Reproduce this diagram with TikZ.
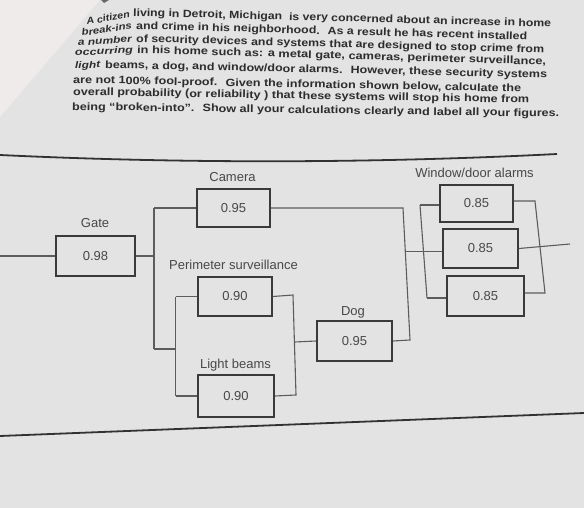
\documentclass[tikz,border=0pt]{standalone}
\usepackage{fontspec}
\setmainfont{Liberation Sans}
\usepackage{graphicx}
\definecolor{paper}{RGB}{227,227,227}
\definecolor{corner}{RGB}{239,235,235}
\definecolor{ink}{RGB}{45,45,45}
\definecolor{dink}{RGB}{72,72,72}
\definecolor{wirec}{RGB}{92,92,92}
\definecolor{framec}{RGB}{58,58,58}
\definecolor{rulec}{RGB}{50,50,50}
\begin{document}
\begin{tikzpicture}[x=1pt,y=-1pt,
  box/.style={draw=framec, line width=1.8pt, inner sep=0pt, text=dink,
    font=\fontsize{13}{15}\selectfont},
  lab/.style={anchor=base, inner sep=0pt, text=dink, font=\fontsize{13}{15}\selectfont},
  wire/.style={draw=wirec, line width=1.1pt},
  tline/.style={anchor=base west, inner sep=0pt, text=ink,
    font=\fontsize{10.6}{12}\selectfont\bfseries},
  tword/.style={anchor=base west, inner sep=0pt, text=ink,
    font=\fontsize{9.5}{11}\selectfont\bfseries\itshape}
]
\useasboundingbox (0,0) rectangle (584,508);
\fill[paper] (0,0) rectangle (584,508);
\fill[corner] (0,0) -- (100,0) -- (0,117) -- cycle;
\fill[black!60] (101,0) -- (109,0) -- (104,3) -- cycle;

% problem text
\node[tword, rotate=10.5] (t1a) at (87,25) {\resizebox{43.7pt}{\height}{A citizen}};
\node[tline, rotate=-1.51] (t1b) at (133,16) {\resizebox{418pt}{\height}{living in Detroit, Michigan~ is very concerned about an increase in home}};
\node[tword, rotate=8] (t2a) at (82,36) {\resizebox{50.5pt}{\height}{break-ins}};
\node[tline, rotate=-1.61] (t2b) at (136,29) {\resizebox{391pt}{\height}{and crime in his neighborhood.~ As a result he has recent installed}};
\node[tword, rotate=4.2] (t3a) at (78,46) {\resizebox{54pt}{\height}{a number}};
\node[tline, rotate=-1.54] (t3b) at (136,42) {\resizebox{408pt}{\height}{of security devices and systems that are designed to stop crime from}};
\node[tword, rotate=3] (t4a) at (75,56) {\resizebox{58pt}{\height}{occurring}};
\node[tline, rotate=-1.68] (t4b) at (137,53) {\resizebox{409pt}{\height}{in his home such as: a metal gate, cameras, perimeter surveillance,}};
\node[tword, rotate=1.5] (t5a) at (75,68.5) {\resizebox{25pt}{\height}{light}};
\node[tline, rotate=-1.30] (t5b) at (105,68) {\resizebox{442pt}{\height}{beams, a dog, and window/door alarms.~ However, these security systems}};
\node[tline, rotate=-1.15] (t6) at (73,83) {\resizebox{448pt}{\height}{are not 100\% fool-proof.~ Given the information shown below, calculate the}};
\node[tline, rotate=-1.0] (t7) at (73,95) {\resizebox{456pt}{\height}{overall probability (or reliability ) that these systems will stop his home from}};
\node[tline, rotate=-0.82] (t8) at (72,110) {\resizebox{487pt}{\height}{being “broken-into”.~ Show all your calculations clearly and label all your figures.}};

% rules
\draw[draw=rulec, line width=1.8pt] (0,155) .. controls (190,164) and (380,163) .. (557,154);
\draw[draw=rulec, line width=1.8pt] (0,436) -- (584,413);

% blocks
\node[box, minimum width=79pt, minimum height=40pt] (gate) at (95.5,256) {0.98};
\node[lab] (gatel) at (95,227) {Gate};
\node[box, minimum width=73pt, minimum height=38pt] (cam) at (233.5,208) {0.95};
\node[lab] (caml) at (232.5,182) {Camera};
\node[box, minimum width=74pt, minimum height=39pt] (ps) at (235,296.5) {0.90};
\node[lab] (psl) at (233.5,269) {Perimeter surveillance};
\node[box, minimum width=76pt, minimum height=42pt] (lb) at (236,396) {0.90};
\node[lab] (lbt) at (235.5,368) {Light beams};
\node[box, minimum width=75pt, minimum height=40pt] (dog) at (354.5,341) {0.95};
\node[lab] (dogl) at (353,315) {Dog};
\node[box, minimum width=73pt, minimum height=37pt] (a1) at (476.5,203.5) {0.85};
\node[box, minimum width=75pt, minimum height=39pt] (a2) at (480.5,248.5) {0.85};
\node[box, minimum width=77pt, minimum height=40pt] (a3) at (485.5,296) {0.85};
\node[lab] (wdal) at (474.5,178) {Window/door alarms};

% junctions
\coordinate (in) at (0,256);
\coordinate (jl) at (154,256);
\coordinate (jt) at (154,208);
\coordinate (jb) at (154,349);
\coordinate (ib) at (175.5,349);
\coordinate (it) at (175.5,296.5);
\coordinate (ibt) at (175.5,396);
\coordinate (ort) at (293,295);
\coordinate (orb) at (296,395);
\coordinate (om) at (294.5,342);
\coordinate (rt) at (403,208);
\coordinate (rb) at (410,340);
\coordinate (rm) at (406,251.5);
\coordinate (alt) at (420,205);
\coordinate (alb) at (427,298);
\coordinate (art) at (535,201);
\coordinate (arb) at (545,293);
\coordinate (out) at (570,244);

% wires
\draw[wire] (in) -- (gate.west);
\draw[wire] (gate.east) -- (jl);
\draw[wire] (jt) -- (jb);
\draw[wire] (jt) -- (cam.west);
\draw[wire] (cam.east) -- (rt) -- (rb) -- (dog.east);
\draw[wire] (jb) -- (ib);
\draw[wire] (it) -- (ibt);
\draw[wire] (it) -- (ps.west);
\draw[wire] (ibt) -- (lb.west);
\draw[wire] (ps.east) -- (ort) -- (orb) -- (lb.east);
\draw[wire] (om) -- (dog.west);
\draw[wire] (rm) -- (a2.west |- rm);
\draw[wire] (alt) -- (alb);
\draw[wire] (alt) -- (a1.west |- alt);
\draw[wire] (alb) -- (a3.west |- alb);
\draw[wire] (a1.east |- art) -- (art) -- (arb) -- (a3.east |- arb);
\draw[wire] (a2.east) -- (out);
\end{tikzpicture}
\end{document}
